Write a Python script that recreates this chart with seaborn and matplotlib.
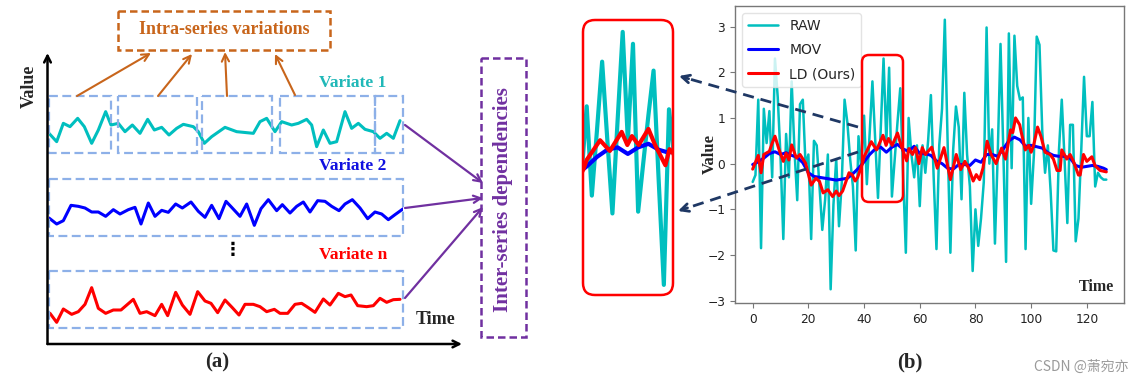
import numpy as np
import seaborn as sns
import matplotlib.pyplot as plt
from matplotlib.patches import Rectangle, FancyBboxPatch

# ---------------- data ----------------
# panel (b): 128 time steps
raw = [-0.40, -0.25, 1.40, -1.85, 1.20, 0.45, 1.15, -0.30, 2.30, 1.45,
       0.15, -1.65, 0.65, -0.30, 1.80, 0.30, -0.80, 1.30, 1.40, -0.05,
       0.20, -1.65, 0.50, 0.40, -0.50, -1.45, -0.80, 0.20, -2.75, -0.90,
       0.10, -1.37, -0.40, 1.40, 0.90, 0.10, -0.50, -1.90, 0.60, -0.10,
       1.05, -0.45, 0.65, 1.80, 0.50, -0.75, 0.80, 2.30, 0.47, 2.10,
       -0.72, 0.10, 0.90, 1.65, -0.20, -1.95, 1.00, 0.20, -0.30, 0.40,
       -0.93, 0.40, -0.20, 0.50, 1.50, -0.30, -1.87, 0.40, 1.20, 3.15,
       0.50, -1.95, 0.30, 1.25, 0.80, -0.78, 1.55, 0.20, -0.50, -2.35,
       -1.00, -1.80, -1.20, -0.40, 2.98, 0.00, 0.75, -1.75, 0.20, 2.62,
       0.30, -2.15, 2.85, -0.10, 2.80, 1.70, 1.40, 1.45, -1.87, 1.00,
       -0.88, 0.20, 2.78, 2.60, 0.70, -0.20, 0.40, -0.60, -1.90, -1.92,
       0.30, 1.40, 0.10, -1.30, 0.85, 0.85, -1.70, -1.20, 0.30, 1.90,
       0.60, 0.60, 1.35, -0.50, -0.20, -0.30, -0.35, -0.35]
raw_t = list(range(len(raw)))

mov_t = list(range(0, 128, 2)) + [127]
mov = [-0.02, 0.04, 0.12, 0.22, 0.26, 0.20, 0.24, 0.18, 0.14, 0.02,
       -0.20, -0.28, -0.30, -0.32, -0.34, -0.36, -0.34, -0.32, -0.22, -0.10,
       0.04, 0.20, 0.32, 0.36, 0.25, 0.36, 0.42, 0.32, 0.27, 0.38,
       0.22, 0.22, 0.18, 0.06, 0.00, -0.10, -0.12, -0.02, -0.02, -0.04,
       0.08, 0.03, 0.20, 0.20, 0.16, 0.32, 0.50, 0.58, 0.52, 0.38,
       0.40, 0.37, 0.34, 0.24, 0.18, 0.16, 0.16, 0.12, -0.04, -0.08,
       -0.06, -0.04, -0.06, -0.10, -0.13]

ld_t = [0, 2, 3, 4, 6, 7, 8, 9.5, 11, 12, 13, 14, 15.7, 17, 19, 21, 22.7, 24,
        25.3, 27, 28.7, 30, 31, 32.3, 34.6, 35.8, 36.8, 37.7, 39.4, 40, 42.6,
        44.5, 46.8, 47.9, 48.8, 50.1, 52, 53.3, 55.3, 56.1, 57.4, 58.5, 59.7,
        60.9, 62, 64.3, 66.3, 68.7, 71, 73.1, 74.7, 76.2, 77.6, 79.2, 80.3,
        81.5, 82.7, 84.2, 85.6, 87.4, 89.4, 90.8, 92.6, 93.4, 94.4, 95.9,
        96.4, 97.9, 99.1, 100, 100.9, 102.3, 103.5, 105, 106.8, 108, 109.3,
        110.4, 111, 112.8, 114, 115.2, 117, 117.6, 118.8, 120, 121.8, 123,
        124.8, 127]
ld = [-0.12, 0.18, -0.20, 0.20, 0.27, 0.45, 0.60, 0.30, 0.05, 0.23, 0.08, 0.41,
      0.12, 0.20, 0.01, -0.47, -0.32, -0.39, -0.64, -0.57, -0.72, -0.60, -0.70,
      -0.60, -0.20, -0.25, -0.38, -0.30, 0.00, 0.15, 0.48, 0.30, 0.62, 0.40,
      0.55, 0.40, 0.67, 0.40, 0.06, 0.33, 0.20, 0.35, 0.00, 0.35, 0.20, 0.36,
      -0.10, 0.35, -0.35, 0.20, -0.13, 0.05, -0.10, -0.38, -0.24, -0.35, -0.10,
      0.49, 0.20, 0.00, 0.34, 0.10, 0.74, 0.68, 1.00, 0.85, 0.70, 0.30, 0.40,
      0.25, 0.40, 0.80, 0.60, 0.25, 0.20, 0.10, -0.15, -0.15, 0.30, 0.10, 0.20,
      0.05, -0.25, -0.25, 0.20, 0.05, 0.15, -0.05, -0.15, -0.18]

# panel (a): three toy variates (arbitrary units)
v1_t = [1.2, 3.5, 5.5, 7.5, 9.8, 11.8, 14, 16, 18.2, 19.8, 22, 24, 26.2, 28.5,
        30.8, 32.8, 35, 37.2, 39.5, 41.5, 44.5, 46, 47.8, 50, 54, 57.5, 62.5,
        64.5, 66.5, 69, 71, 74, 76, 78.5, 80, 81.5, 83.5, 85.5, 87.5, 90, 92,
        94, 96, 98.5, 100.5, 102.5, 104.5, 106.5]
v1 = [3.5, 2.25, 5, 4.5, 5.75, 4.5, 2, 4, 6.75, 4.75, 5, 3.75, 4.75, 3.5, 5.6,
      4, 4.4, 3.25, 4.25, 4.85, 4.5, 3.75, 2, 3, 4.4, 3.75, 3.5, 5.25, 5.75,
      3.75, 5.25, 4.75, 5, 5.6, 4.75, 1.5, 4, 2, 2.25, 6.75, 4.25, 5, 4.1,
      3.75, 2.75, 3.5, 2.75, 5.4]
v2_t = [1.2, 3.5, 5.5, 7.8, 10, 12, 14, 16, 18.2, 20.5, 22.5, 25, 27, 28.8, 31,
        33, 35, 37, 39.2, 41.2, 43.8, 46, 48, 50, 52.2, 54.3, 56, 58.5, 60.5,
        62.8, 64.8, 67, 69.5, 71.2, 73.5, 75.5, 77.5, 79.5, 81.8, 84, 86, 88.2,
        90, 92.2, 94.5, 96.8, 99, 101, 103, 105, 107.5]
v2 = [4, 3.1, 3.6, 5.9, 5.75, 5.5, 4.9, 4.9, 4.25, 5.25, 4.6, 5.25, 5.6, 3.1,
      6.25, 4.25, 5.15, 4.85, 6.1, 5.5, 6.4, 5, 4.1, 5.9, 3.9, 6.5, 5.6, 4.25,
      6.1, 2.9, 5.4, 6.75, 5.1, 6, 4.75, 5.75, 6.4, 4.9, 6.6, 6.5, 5.75, 5.1,
      6.1, 6.75, 5.5, 3.9, 4.9, 4.6, 3.75, 4.5, 5.4]
vn_t = [1.5, 3.5, 5.5, 8, 10, 12, 14, 16, 18.2, 20.5, 22.8, 26.5, 28.5, 30.5, 33,
        35, 36.8, 39.2, 41.2, 43.5, 45.8, 48, 49.8, 51.8, 54, 56.2, 58.2, 60,
        62.5, 64.5, 66.5, 68.8, 70.5, 72.8, 75, 77, 79, 81, 83.5, 85.5, 88, 90,
        91.8, 93.8, 96.5, 98.5, 100.5, 102.5, 104.5, 106.5]
vn = [2.75, 1.4, 3.4, 2.6, 3, 4.1, 6.6, 3.5, 2.75, 3.25, 3.25, 4.85, 2.75, 3,
      2.4, 4.1, 2.4, 5.9, 4, 2.6, 6, 4.6, 4.25, 2.85, 4.75, 3.6, 2.5, 4.1, 4.1,
      3.75, 3, 3.35, 2.75, 2.75, 4.1, 4.25, 3.6, 2.9, 4.9, 4, 5.75, 5.25, 5.5,
      3.9, 3.75, 3.9, 5, 4.4, 4.8, 4.85]

x_ticks = [0, 20, 40, 60, 80, 100, 120]
y_ticks = [-3, -2, -1, 0, 1, 2, 3]

# ---------------- styling ----------------
sns.set_style("white")
plt.rcParams['font.family'] = ['DejaVu Sans']
plt.rcParams['axes.edgecolor'] = '#777777'

SERIF = 'Liberation Serif'
CYAN, BLUE, RED = '#00BFBF', '#0000FF', '#FF0000'
BOXC = '#8DB0E8'
ORANGE = '#C8651B'
PURPLE = '#7030A0'
NAVY = '#1F3864'

W, H = 1144, 385
fig = plt.figure(figsize=(W / 100, H / 100), dpi=100)


def px_axes(x0, y0, x1, y1):
    return fig.add_axes([x0 / W, 1 - y1 / H, (x1 - x0) / W, (y1 - y0) / H])


# ---------------- panel (a) series ----------------
for t, v, col, box, yl in [(v1_t, v1, CYAN, (49, 96, 403, 153), (0.55, 9.1)),
                           (v2_t, v2, BLUE, (49, 179, 403, 236), (1.3, 9.85)),
                           (vn_t, vn, RED, (49, 271, 403, 328), (0.55, 9.1))]:
    a = px_axes(*box)
    sns.lineplot(x=t, y=v, ax=a, color=col, lw=2.2)
    a.set_xlim(1.2, 107.4)
    a.set_ylim(*yl)
    a.axis('off')

# ---------------- panel (b) main chart ----------------
ax = px_axes(735, 6, 1124, 303)
sns.lineplot(x=raw_t, y=raw, ax=ax, color=CYAN, lw=1.8, label='RAW')
sns.lineplot(x=mov_t, y=mov, ax=ax, color=BLUE, lw=2.2, label='MOV')
sns.lineplot(x=ld_t, y=ld, ax=ax, color=RED, lw=2.2, label='LD (Ours)')
ax.set_xlim(-6.35, 133.35)
ax.set_ylim(-3.05, 3.45)
ax.set_xticks(x_ticks)
ax.set_yticks(y_ticks)
ax.set_xlabel('')
ax.set_ylabel('')
ax.tick_params(labelsize=8.8, length=3.5, width=0.8, color='#777777',
               labelcolor='#222222', left=True, bottom=True)
for s in ax.spines.values():
    s.set_linewidth(1.0)
ax.legend(loc='upper left', fontsize=10, labelspacing=0.75, handlelength=2.2,
          framealpha=0.8, edgecolor='#dddddd')
ax.text(-0.066, 0.5, 'Value', transform=ax.transAxes, rotation=90,
        ha='center', va='center', family=SERIF, weight='bold', fontsize=12)
ax.text(0.93, 0.054, 'Time', transform=ax.transAxes, ha='center', va='center',
        family=SERIF, weight='bold', fontsize=11.5)

# zoomed inset
ai = px_axes(583, 20, 673, 295)
sns.lineplot(x=raw_t, y=raw, ax=ai, color=CYAN, lw=3.0)
sns.lineplot(x=mov_t, y=mov, ax=ai, color=BLUE, lw=3.0)
sns.lineplot(x=ld_t, y=ld, ax=ai, color=RED, lw=3.0)
ai.set_xlim(39.28, 56.78)
ai.set_ylim(-2.12, 2.5)
ai.axis('off')

# ---------------- overlay for diagram pieces ----------------
ov = fig.add_axes([0, 0, 1, 1])
ov.set_xlim(0, W)
ov.set_ylim(H, 0)
ov.axis('off')
ov.set_zorder(10)


def arrow(tail, head, color, lw, ms=14):
    ov.annotate('', xy=head, xytext=tail,
                arrowprops=dict(arrowstyle='->', color=color, lw=lw,
                                shrinkA=0, shrinkB=0, mutation_scale=ms))


def dbox(x0, y0, x1, y1, color, lw, dash=(4, 2)):
    ov.add_patch(Rectangle((x0, y0), x1 - x0, y1 - y0, fill=False, ec=color,
                           lw=lw, ls=(0, dash)))


# intra-series box and arrows
dbox(118, 11, 330, 50, ORANGE, 1.8, (3, 1.6))
ov.text(224, 29, 'Intra-series variations', ha='center', va='center',
        family=SERIF, weight='bold', fontsize=13, color=ORANGE)
for tail, head in [((77, 96), (151, 53)), ((158, 96), (192, 54)),
                   ((227, 96), (225, 52)), ((295, 95), (275, 54))]:
    arrow(tail, head, ORANGE, 1.5, 13)

# variate boxes
for x0, x1 in [(49, 111), (118, 197), (202, 272), (280, 375), (375, 403)]:
    dbox(x0, 96, x1, 153, BOXC, 1.6)
dbox(49, 179, 403, 236, BOXC, 1.6)
dbox(49, 271, 403, 328, BOXC, 1.6)

ov.text(353, 83, 'Variate 1', ha='center', va='center', family=SERIF,
        weight='bold', fontsize=12.5, color='#20B8B8')
ov.text(353, 166, 'Variate 2', ha='center', va='center', family=SERIF,
        weight='bold', fontsize=12.5, color='#1010E0')
ov.text(353, 255, 'Variate n', ha='center', va='center', family=SERIF,
        weight='bold', fontsize=12.5, color=RED)
ov.text(233, 250, '\u22ee', ha='center', va='center', fontsize=13,
        color='black', weight='bold')

# axes arrows of panel (a)
arrow((47.5, 344), (47.5, 53), 'black', 1.8, 12)
arrow((47.5, 344), (462, 344), 'black', 1.8, 12)
ov.text(29, 86, 'Value', rotation=90, ha='center', va='center', family=SERIF,
        weight='bold', fontsize=13)
ov.text(436, 320, 'Time', ha='center', va='center', family=SERIF,
        weight='bold', fontsize=13)
ov.text(217, 362, '(a)', ha='center', va='center', family=SERIF,
        weight='bold', fontsize=15)

# inter-series box and arrows
dbox(481, 58, 526, 337, PURPLE, 1.8, (3, 1.6))
ov.text(503, 200, 'Inter-series dependencies', rotation=90, ha='center',
        va='center', family=SERIF, weight='bold', fontsize=15, color=PURPLE)
for tail, head in [((405, 125), (483, 183)), ((405, 208), (483, 198)),
                   ((405, 298), (483, 207))]:
    arrow(tail, head, PURPLE, 1.6, 13)

# panel (b) decorations
ov.add_patch(FancyBboxPatch((862, 55), 41, 147,
                            boxstyle='round,pad=0,rounding_size=7',
                            fill=False, ec=RED, lw=1.8))
ov.add_patch(FancyBboxPatch((583, 20), 90, 275,
                            boxstyle='round,pad=0,rounding_size=12',
                            fill=False, ec=RED, lw=1.8))
for start, tip in [((858, 127), (679, 76)), ((858, 152), (678, 211))]:
    d = np.array(tip, float) - np.array(start, float)
    d /= np.hypot(*d)
    back = (tip[0] - 10 * d[0], tip[1] - 10 * d[1])
    ov.plot([start[0], back[0]], [start[1], back[1]], color=NAVY, lw=2.0,
            ls=(0, (4, 2.5)))
    arrow(back, tip, NAVY, 2.0, 14)

ov.text(910, 362, '(b)', ha='center', va='center', family=SERIF,
        weight='bold', fontsize=15)
ov.text(1129, 367, 'CSDN @萧宛亦', ha='right', va='center', fontsize=10,
        color='#9a9a9a', family=['Noto Sans CJK SC', 'DejaVu Sans'])

fig.savefig('out.png', dpi=100)
